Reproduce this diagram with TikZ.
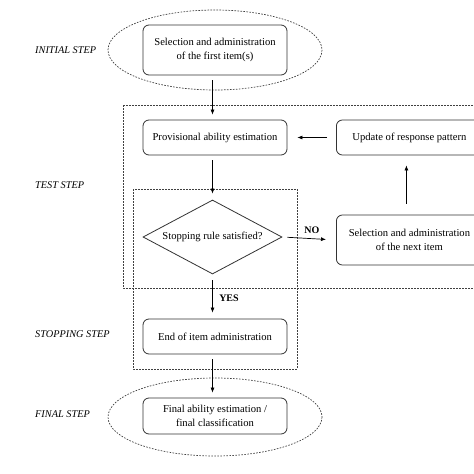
\documentclass[tikz,border=0pt]{standalone}
\usepackage{fontspec}
\setmainfont{Liberation Serif}
\usetikzlibrary{shapes.geometric,arrows.meta}
\begin{document}
\begin{tikzpicture}[x=1pt,y=-1pt,
  box/.style={draw=black!80, line width=0.8pt, rounded corners=6pt, align=center, font=\fontsize{10.6}{14}\selectfont, inner sep=0pt},
  dec/.style={draw=black!80, line width=0.8pt, diamond, aspect=1.88, inner sep=0pt, minimum width=139pt, minimum height=74pt, font=\fontsize{10.6}{14}\selectfont},
  dotline/.style={draw=black!75, line width=0.7pt, dash pattern=on 1.6pt off 1.4pt},
  arr/.style={-{Latex[length=5pt,width=4pt]}, line width=0.7pt},
  steplabel/.style={font=\fontsize{10.3}{12}\selectfont\itshape, anchor=west, inner sep=0pt},
  yn/.style={font=\fontsize{10}{12}\selectfont\bfseries, inner sep=0pt}]
\useasboundingbox (0,0) rectangle (474,474);
\clip (0,0) rectangle (474,474);
\fill[white] (0,0) rectangle (474,474);
% dashed groupings
\draw[dotline] (215,50) ellipse [x radius=107, y radius=40];
\draw[dotline] (215,417) ellipse [x radius=107, y radius=39];
\draw[dotline] (123,105) rectangle (490,288);
\draw[dotline] (133,189) rectangle (297,369);
% nodes
\node[box, minimum width=144pt, minimum height=50pt] (b1) at (215,50) {Selection and administration\\of the first item(s)};
\node[box, minimum width=144pt, minimum height=35pt] (b2) at (215,137.5) {Provisional ability estimation};
\node[box, minimum width=146pt, minimum height=35pt, anchor=west] (b3) at (336,137.5) {Update of response pattern};
\node[dec] (d) at (212.5,237) {Stopping rule satisfied?};
\node[box, minimum width=146pt, minimum height=50pt, anchor=west] (b4) at (336,240) {Selection and administration\\of the next item};
\node[box, minimum width=144pt, minimum height=35pt] (b5) at (215,336.5) {End of item administration};
\node[box, minimum width=144pt, minimum height=36pt] (b6) at (215,416) {Final ability estimation /\\final classification};
% labels
\node[steplabel] (l1) at (35,50) {INITIAL STEP};
\node[steplabel] (l2) at (35,185) {TEST STEP};
\node[steplabel] (l3) at (35,334) {STOPPING STEP};
\node[steplabel] (l4) at (35,414) {FINAL STEP};
% connectors
\draw[arr, shorten <=5pt, shorten >=5pt] ([xshift=-2.5pt]b1.south) -- ([xshift=-2.5pt]b2.north);
\draw[arr, shorten <=5pt, shorten >=6pt] ([xshift=-2.5pt]b2.south) -- (d.north);
\draw[arr, shorten <=9pt, shorten >=10pt] (b3.west) -- (b2.east);
\draw[arr, shorten <=5pt, shorten >=10pt] (d.east) -- node[yn, above, yshift=5pt, pos=0.55] (no) {NO} (b4.west);
\draw[arr, shorten <=11pt, shorten >=10pt] ([xshift=-3pt]b4.north) -- ([xshift=-3pt]b3.south);
\draw[arr, shorten <=6pt, shorten >=6pt] (d.south) -- ([xshift=-2.5pt]b5.north);
\node[yn] (yes) at (229,298) {YES};
\draw[arr, shorten <=5pt, shorten >=5pt] ([xshift=-2.5pt]b5.south) -- ([xshift=-2.5pt]b6.north);
\end{tikzpicture}
\end{document}
